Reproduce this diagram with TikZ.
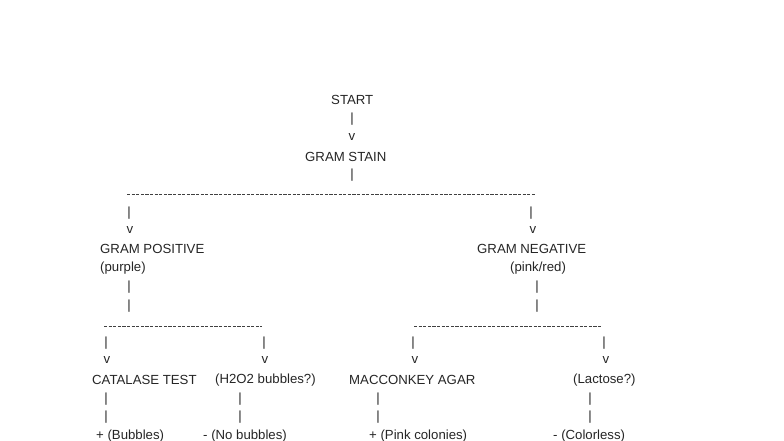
\documentclass[tikz,border=0pt]{standalone}
\usepackage{fontspec}
\setmainfont{Liberation Sans}
\begin{document}
\begin{tikzpicture}[x=1pt,y=-1pt,
  t/.style={inner sep=0pt,anchor=west,font=\fontsize{13.2}{15}\selectfont,text=black!85},
  c/.style={inner sep=0pt,anchor=center,font=\fontsize{13.2}{15}\selectfont,text=black!85},
  dl/.style={draw=black!75,line width=0.6pt,dash pattern=on 3.2pt off 1.4pt}]
\useasboundingbox[fill=white] (0,0) rectangle (784,441);
\node[t] (start) at (331,100) {START};
\node[c] (p1) at (352,119) {|};
\node[c] (v1) at (352,137) {v};
\node[t] (gs) at (305,157) {GRAM STAIN};
\node[c] (p2) at (352,175) {|};
\coordinate (d1a) at (127,194); \coordinate (d1b) at (535,194);
\draw[dl] (d1a) -- (d1b);
\node[c] (p3) at (129,213) {|};
\node[c] (v3) at (130,230) {v};
\node[c] (p4) at (531,213) {|};
\node[c] (v4) at (533,230) {v};
\node[t] (gp) at (100,249) {GRAM POSITIVE};
\node[t] (pur) at (100,268) {(purple)};
\node[c] (p5) at (129,287) {|};
\node[c] (p6) at (129,306) {|};
\node[t] (gn) at (477,249) {GRAM NEGATIVE};
\node[t] (pink) at (510,268) {(pink/red)};
\node[c] (p7) at (537,287) {|};
\node[c] (p8) at (537,306) {|};
\coordinate (d2a) at (104,326); \coordinate (d2b) at (262,326);
\coordinate (d3a) at (414,326); \coordinate (d3b) at (601,326);
\draw[dl] (d2a) -- (d2b);
\draw[dl] (d3a) -- (d3b);
\node[c] (q1) at (106,343) {|}; \node[c] (w1) at (107,360) {v};
\node[c] (q2) at (264,343) {|}; \node[c] (w2) at (265,360) {v};
\node[c] (q3) at (413,343) {|}; \node[c] (w3) at (415,360) {v};
\node[c] (q4) at (604,343) {|}; \node[c] (w4) at (606,360) {v};
\node[t] (cat) at (92,380) {CATALASE TEST};
\node[t] (h2o2) at (215,380) {(H2O2 bubbles?)};
\node[t] (mac) at (349,380) {MACCONKEY AGAR};
\node[t] (lac) at (573,380) {(Lactose?)};
\node[c] (r1) at (106,399) {|}; \node[c] (s1) at (106,417) {|};
\node[c] (r2) at (240,399) {|}; \node[c] (s2) at (240,417) {|};
\node[c] (r3) at (378,399) {|}; \node[c] (s3) at (378,417) {|};
\node[c] (r4) at (590,399) {|}; \node[c] (s4) at (590,417) {|};
\node[t] (b1) at (96,436) {+ (Bubbles)};
\node[t] (b2) at (203,436) {- (No bubbles)};
\node[t] (b3) at (369,436) {+ (Pink colonies)};
\node[t] (b4) at (553,436) {- (Colorless)};
\end{tikzpicture}
\end{document}
